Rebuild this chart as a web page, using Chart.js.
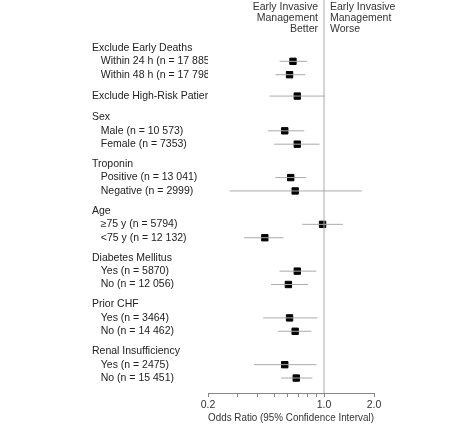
<!DOCTYPE html>
<html>
<head>
<style>
  body { margin: 0; background: #fff; }
  #wrap { width: 474px; height: 424px; }
</style>
<script src="https://cdn.jsdelivr.net/npm/chart.js"></script>
</head>
<body>
<div id="wrap"><canvas id="myChart"></canvas></div>
<script>
  // row labels and their vertical positions (in text lines)
  const labels = ['Exclude Early Deaths', '   Within 24 h (n = 17 885)', '   Within 48 h (n = 17 798)',
    'Exclude High-Risk Patients (n = 8974)', 'Sex', '   Male (n = 10 573)', '   Female (n = 7353)',
    'Troponin', '   Positive (n = 13 041)', '   Negative (n = 2999)', 'Age', '   \u226575 y (n = 5794)',
    '   <75 y (n = 12 132)', 'Diabetes Mellitus', '   Yes (n = 5870)', '   No (n = 12 056)',
    'Prior CHF', '   Yes (n = 3464)', '   No (n = 14 462)', 'Renal Insufficiency',
    '   Yes (n = 2475)', '   No (n = 15 451)']
  const rowPos = [0, 1, 2, 3.6, 5.2, 6.2, 7.2, 8.7, 9.7, 10.7, 12.2, 13.2, 14.2, 15.7, 16.7, 17.7,
    19.2, 20.2, 21.2, 22.7, 23.7, 24.7]
  // odds ratios and 95% CI (null for header rows)
  const oddsRatio = [null, 0.65, 0.62, 0.69, null, 0.58, 0.69, null, 0.63, 0.67, null, 0.98, 0.44,
    null, 0.69, 0.61, null, 0.62, 0.67, null, 0.58, 0.68]
  const ciLow = [null, 0.54, 0.51, 0.47, null, 0.46, 0.50, null, 0.51, 0.27, null, 0.74, 0.33,
    null, 0.54, 0.48, null, 0.43, 0.53, null, 0.38, 0.55]
  const ciHigh = [null, 0.79, 0.77, 1.01, null, 0.76, 0.94, null, 0.78, 1.69, null, 1.30, 0.57,
    null, 0.90, 0.80, null, 0.91, 0.84, null, 0.90, 0.85]
  const xTicks = [0.2, 0.3, 0.4, 0.5, 0.6, 0.7, 0.8, 0.9, 1.0, 2.0]
  const xTickLabels = { 0.2: '0.2', 1: '1.0', 2: '2.0' }

  const font = { family: 'Liberation Sans, Arial, sans-serif', size: 10.5 }
  const datasets = []
  oddsRatio.forEach((v, i) => {
    if (v == null) return
    datasets.push({
      type: 'scatter', showLine: true,
      data: [{ x: ciLow[i], y: rowPos[i] }, { x: ciHigh[i], y: rowPos[i] }],
      borderColor: '#aaa', borderWidth: 1, pointRadius: 0
    })
  })
  datasets.push({
    type: 'scatter',
    data: oddsRatio.map((v, i) => v == null ? null : { x: v, y: rowPos[i] }).filter(d => d),
    pointStyle: 'rect', pointRadius: 4.5, backgroundColor: '#000', borderColor: '#000'
  })

  const headerPlugin = {
    id: 'header',
    afterDraw(chart) {
      const c = chart.ctx, x1 = chart.scales.x.getPixelForValue(1)
      c.save()
      c.strokeStyle = '#aaa'; c.lineWidth = 1
      c.beginPath(); c.moveTo(x1, 0); c.lineTo(x1, chart.chartArea.bottom); c.stroke()
      c.fillStyle = '#333'; c.font = '10.5px ' + font.family; c.textBaseline = 'top'
      c.textAlign = 'right'
      ;['Early Invasive', 'Management', 'Better'].forEach((t, i) => c.fillText(t, x1 - 6, 2 + i * 11))
      c.textAlign = 'left'
      ;['Early Invasive', 'Management', 'Worse'].forEach((t, i) => c.fillText(t, x1 + 6, 2 + i * 11))
      c.restore()
    }
  }

  new Chart(document.getElementById('myChart'), {
    type: 'scatter',
    data: { datasets },
    plugins: [headerPlugin],
    options: {
      responsive: true, maintainAspectRatio: false, animation: false,
      layout: { padding: { left: 92, right: 100, top: 35, bottom: 0 } },
      plugins: { legend: { display: false }, tooltip: { enabled: false } },
      scales: {
        x: {
          type: 'logarithmic', min: 0.2, max: 2.0,
          afterBuildTicks: s => { s.ticks = xTicks.map(v => ({ value: v })) },
          afterFit: s => { s.height = 31 },
          ticks: { color: '#333', font, padding: 2, autoSkip: false, maxRotation: 0,
            callback: v => xTickLabels[v] || '' },
          grid: { drawOnChartArea: false, tickLength: 4, color: '#888' },
          border: { color: '#888' },
          title: { display: true, text: 'Odds Ratio (95% Confidence Interval)', color: '#333', font, padding: 0 }
        },
        y: {
          reverse: true, min: -0.97, max: 25.82,
          afterBuildTicks: s => { s.ticks = rowPos.map(v => ({ value: v })) },
          afterFit: s => { s.width = 116 },
          ticks: { color: '#222', font, crossAlign: 'far', padding: 0, autoSkip: false,
            callback: v => labels[rowPos.indexOf(v)] },
          grid: { display: false }, border: { display: false }
        }
      }
    }
  })
</script>
</body>
</html>
